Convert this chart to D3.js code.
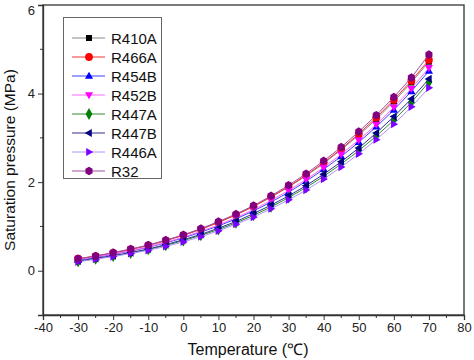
<!DOCTYPE html>
<html><head><meta charset="utf-8">
<script src="https://cdn.jsdelivr.net/npm/d3@7"></script>
<style>body{margin:0;background:#fff}svg{display:block;font-family:"Liberation Sans",Arial,sans-serif}</style>
</head><body><svg id="c" width="474" height="360"></svg>
<script>
const temps = [-30,-25,-20,-15,-10,-5,0,5,10,15,20,25,30,35,40,45,50,55,60,65,70];
const seriesNames = ["R410A","R466A","R454B","R452B","R447A","R447B","R446A","R32"];
const R410A = [0.27,0.33,0.40,0.48,0.57,0.68,0.80,0.93,1.09,1.26,1.45,1.66,1.89,2.14,2.42,2.73,3.06,3.42,3.82,4.25,4.72];
const R466A = [0.27,0.33,0.40,0.48,0.57,0.68,0.80,0.94,1.09,1.26,1.45,1.67,1.90,2.16,2.44,2.75,3.09,3.46,3.86,4.29,4.76];
const R454B = [0.24,0.30,0.37,0.44,0.53,0.63,0.74,0.87,1.01,1.17,1.35,1.55,1.77,2.02,2.29,2.58,2.90,3.25,3.63,4.05,4.51];
const R452B = [0.25,0.31,0.38,0.45,0.54,0.64,0.76,0.89,1.03,1.20,1.38,1.59,1.81,2.06,2.33,2.63,2.95,3.30,3.69,4.11,4.58];
const R447A = [0.21,0.27,0.33,0.40,0.48,0.57,0.68,0.80,0.93,1.08,1.25,1.44,1.65,1.88,2.13,2.41,2.71,3.04,3.40,3.80,4.26];
const R447B = [0.22,0.28,0.34,0.41,0.49,0.59,0.70,0.82,0.96,1.11,1.29,1.48,1.69,1.92,2.18,2.46,2.77,3.11,3.48,3.88,4.33];
const R446A = [0.20,0.26,0.32,0.39,0.46,0.55,0.65,0.77,0.90,1.05,1.21,1.40,1.60,1.82,2.07,2.34,2.64,2.96,3.31,3.70,4.13];
const R32   = [0.27,0.33,0.41,0.49,0.58,0.69,0.81,0.95,1.11,1.28,1.47,1.69,1.93,2.19,2.48,2.79,3.14,3.51,3.92,4.36,4.88];
const xTicks = [-40,-30,-20,-10,0,10,20,30,40,50,60,70,80];
const yTicks = [0,2,4,6];
const xLabel = "Temperature (℃)";
const yLabel = "Saturation pressure (MPa)";

const data = {R410A,R466A,R454B,R452B,R447A,R447B,R446A,R32};
const colors = {R410A:"#000000",R466A:"#ff0000",R454B:"#0000ff",R452B:"#ff00ff",R447A:"#008000",R447B:"#000080",R446A:"#8000ff",R32:"#800080"};
const lineColors = {R410A:"#888888",R466A:"#ff3030",R454B:"#4040ff",R452B:"#ff66ff",R447A:"#2e8b2e",R447B:"#303090",R446A:"#b090ff",R32:"#a050a0"};
const shapes = {R410A:d3.symbolSquare,R466A:d3.symbolCircle,R454B:"up",R452B:"down",R447A:d3.symbolDiamond,R447B:"left",R446A:"right",R32:"hex"};

const svg = d3.select("#c");
const L=43, R=464, T=5, B=315;
const x = d3.scaleLinear().domain([-40,80]).range([L,R]);
const y = d3.scaleLinear().domain([-1,6]).range([B,T]);

function markerPath(s, r){
  if (s==="up") return `M0,${-r}L${r*0.95},${r*0.65}L${-r*0.95},${r*0.65}Z`;
  if (s==="down") return `M0,${r}L${r*0.95},${-r*0.65}L${-r*0.95},${-r*0.65}Z`;
  if (s==="left") return `M${-r},0L${r*0.65},${-r*0.95}L${r*0.65},${r*0.95}Z`;
  if (s==="right") return `M${r},0L${-r*0.65},${-r*0.95}L${-r*0.65},${r*0.95}Z`;
  if (s==="hex"){ const p=[]; for(let i=0;i<6;i++){const a=Math.PI/3*i+Math.PI/6; p.push([r*Math.cos(a)*0.95,r*Math.sin(a)]);} return "M"+p.map(q=>q.join(",")).join("L")+"Z"; }
  const area = s===d3.symbolSquare ? 36 : s===d3.symbolCircle ? 48 : 40;
  return d3.symbol().type(s).size(area)();
}

// frame
svg.append("rect").attr("x",L).attr("y",T).attr("width",R-L).attr("height",B-T)
  .attr("fill","none").attr("stroke","#333").attr("stroke-width",1.3);

// axes
const xAxis = d3.axisBottom(x).tickValues(xTicks).tickSize(5).tickPadding(3).tickFormat(d=>String(d));
const gx = svg.append("g").attr("transform",`translate(0,${B})`).call(xAxis);
gx.select(".domain").attr("stroke","#333").attr("stroke-width",1.3);
gx.selectAll(".tick line").attr("stroke","#333");
gx.selectAll("text").attr("font-size",13).attr("fill","#222").attr("font-family","Liberation Sans, Arial, sans-serif");
const xMinor = d3.range(-35,80,10);
svg.append("g").selectAll("line").data(xMinor).join("line")
  .attr("x1",d=>x(d)).attr("x2",d=>x(d)).attr("y1",B).attr("y2",B+3).attr("stroke","#333");

const yAxis = d3.axisLeft(y).tickValues(yTicks).tickSize(5).tickPadding(3).tickFormat(d=>String(d));
const gy = svg.append("g").attr("transform",`translate(${L},0)`).call(yAxis);
gy.select(".domain").attr("stroke","#333").attr("stroke-width",1.3);
gy.selectAll(".tick line").attr("stroke","#333");
gy.selectAll("text").attr("font-size",13).attr("fill","#222").attr("font-family","Liberation Sans, Arial, sans-serif");
gy.selectAll(".tick").filter(d=>d===6).select("text").attr("dy","0.7em");
const yMinor = [1,3,5];
svg.append("g").selectAll("line").data(yMinor).join("line")
  .attr("x1",L-3).attr("x2",L).attr("y1",d=>y(d)).attr("y2",d=>y(d)).attr("stroke","#333");

svg.append("text").attr("x",248).attr("y",355).attr("text-anchor","middle")
  .attr("font-size",16).attr("fill","#111").text(xLabel);
svg.append("text").attr("transform",`translate(15,${(T+B)/2}) rotate(-90)`).attr("text-anchor","middle")
  .attr("font-size",15.5).attr("fill","#111").text(yLabel);

// series
const line = d3.line().x((d,i)=>x(temps[i])).y(d=>y(d));
seriesNames.forEach(name=>{
  const g = svg.append("g");
  g.append("path").datum(data[name]).attr("d",line).attr("fill","none")
    .attr("stroke",lineColors[name]).attr("stroke-width",1);
  g.selectAll("path.m").data(data[name]).join("path").attr("class","m")
    .attr("transform",(d,i)=>`translate(${x(temps[i])},${y(d)})`)
    .attr("d",markerPath(shapes[name],4.3)).attr("fill",colors[name]);
});

// legend
const lg = svg.append("g");
lg.append("rect").attr("x",63.5).attr("y",17.5).attr("width",98).attr("height",161)
  .attr("fill","#fff").attr("stroke","#666").attr("stroke-width",1);
seriesNames.forEach((name,i)=>{
  const cy = 38 + i*19;
  lg.append("line").attr("x1",72).attr("x2",105).attr("y1",cy).attr("y2",cy)
    .attr("stroke",lineColors[name]).attr("stroke-width",1);
  lg.append("path").attr("transform",`translate(89,${cy})`).attr("d",markerPath(shapes[name],4.3)).attr("fill",colors[name]);
  lg.append("text").attr("x",111).attr("y",cy+5.5).attr("font-size",15).attr("fill","#111").text(name);
});
</script></body></html>
